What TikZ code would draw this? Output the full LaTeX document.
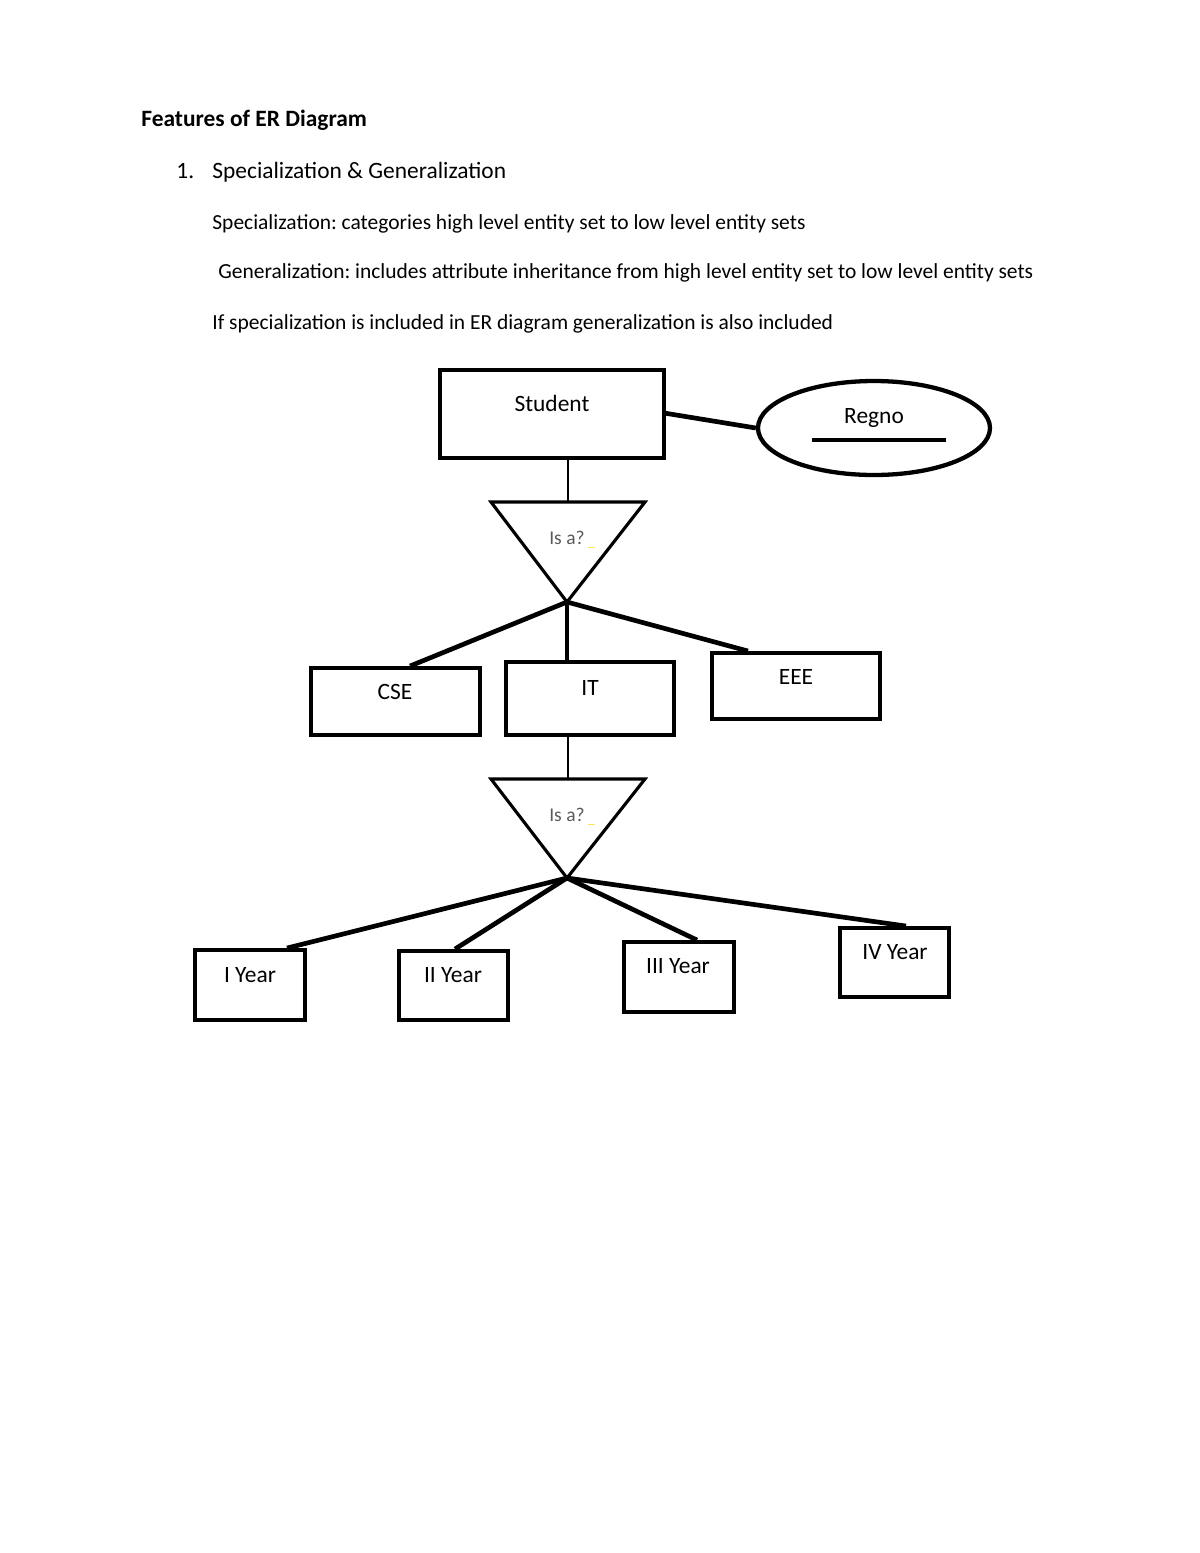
\documentclass[tikz,border=0pt]{standalone}
\usepackage{fontspec}
\setmainfont{Carlito}
\usepackage{tikz}
\usetikzlibrary{shapes.geometric}
\frenchspacing

\begin{document}
\begin{tikzpicture}[x=0.018cm,y=-0.018cm,
        entity/.style={draw,line width=2pt,inner sep=0pt},
        lbl/.style={font=\fontsize{12}{14}\selectfont},
        thick link/.style={line width=2.4pt},
        thin link/.style={line width=1pt},
        isa/.style={line width=1.6pt},
        txt/.style={anchor=base west,inner sep=0pt,font=\fontsize{11}{13}\selectfont}]
        \useasboundingbox (0,0) rectangle (1200,1553);
        % heading text
        \node[txt,font=\fontsize{12}{14}\selectfont\bfseries] (title) at (141,126) {Features of ER Diagram};
        \node[txt,font=\fontsize{12}{14}\selectfont] (num) at (176,178) {1.};
        \node[txt,font=\fontsize{12}{14}\selectfont] (head) at (212,178) {Specialization \& Generalization};
        \node[txt] (line1) at (212,229) {Specialization: categories high level entity set to low level entity sets};
        \node[txt] (line2) at (218,278) {Generalization: includes attribute inheritance from high level entity set to low level entity sets};
        \node[txt] (line3) at (212,329) {If specialization is included in ER diagram generalization is also included};
        % entity Student and attribute Regno
        \node[entity,minimum width=224*0.018cm,minimum height=88*0.018cm] (student) at (552,414) {};
        \node[lbl] (studenttxt) at (552,403) {Student};
        \node[draw,ellipse,line width=2.2pt,minimum width=232*0.018cm,minimum height=94*0.018cm] (regno) at (874,428) {};
        \node[lbl] (regnotxt) at (874,418) {Regno};
        \draw[line width=2.4pt] (812,440) -- (946,440);
        \draw[thick link] (664,413) -- (regno.west);
        % first is-a triangle
        \coordinate (ta) at (567,602);
        \draw[isa] (491,502) -- (645,502) -- (ta) -- cycle;
        \node[text=black!65] (isa1) at (567,538) {Is a?};
        \draw[yellow!70!orange!60,line width=0.6pt] (isa1.base east) ++(-4,3) -- ++(7,0);
        \draw[thin link] (568,458) -- (568,502);
        % CSE, IT, EEE
        \node[entity,minimum width=169*0.018cm,minimum height=67*0.018cm] (cse) at (395.5,701.5) {};
        \node[lbl] (csetxt) at (395,692) {CSE};
        \node[entity,minimum width=168*0.018cm,minimum height=73*0.018cm] (it) at (590,698.5) {};
        \node[lbl] (ittxt) at (590,688) {IT};
        \node[entity,minimum width=168*0.018cm,minimum height=66*0.018cm] (eee) at (796,686) {};
        \node[lbl] (eeetxt) at (796,677) {EEE};
        \draw[thick link] (ta) -- (cse.north -| 410,0);
        \draw[thick link] (ta) -- (it.north -| 567,0);
        \draw[thick link] (ta) -- (eee.north -| 748,0);
        % second is-a triangle
        \coordinate (tb) at (567,878);
        \draw[isa] (491,779) -- (645,779) -- (tb) -- cycle;
        \node[text=black!65] (isa2) at (567,815) {Is a?};
        \draw[yellow!70!orange!60,line width=0.6pt] (isa2.base east) ++(-4,3) -- ++(7,0);
        \draw[thin link] (it.south -| 568,0) -- (568,779);
        % years
        \node[entity,minimum width=110*0.018cm,minimum height=70*0.018cm] (y1) at (250,985) {};
        \node[lbl] (y1txt) at (250,975) {I Year};
        \node[entity,minimum width=109*0.018cm,minimum height=69*0.018cm] (y2) at (453.5,985.5) {};
        \node[lbl] (y2txt) at (453,975) {II Year};
        \node[entity,minimum width=110*0.018cm,minimum height=70*0.018cm] (y3) at (679,977) {};
        \node[lbl] (y3txt) at (678,966) {III Year};
        \node[entity,minimum width=109*0.018cm,minimum height=69*0.018cm] (y4) at (894.5,962.5) {};
        \node[lbl] (y4txt) at (895,952) {IV Year};
        \draw[thick link] (tb) -- (y1.north -| 287,0);
        \draw[thick link] (tb) -- (y2.north -| 455,0);
        \draw[thick link] (tb) -- (y3.north -| 697,0);
        \draw[thick link] (tb) -- (y4.north -| 906,0);
\end{tikzpicture}
\end{document}
